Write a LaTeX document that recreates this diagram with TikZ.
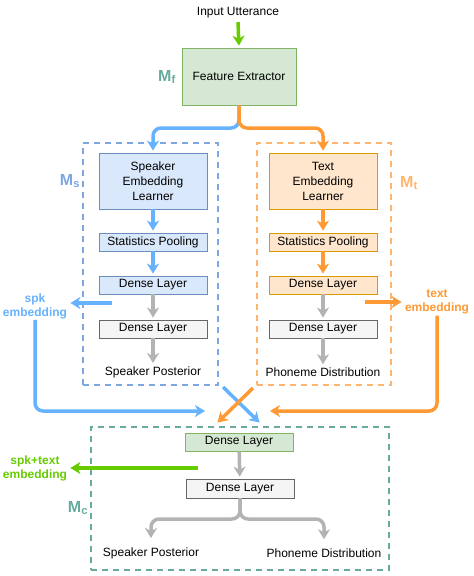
\documentclass[tikz,border=0pt]{standalone}
\usepackage{fontspec}
\setmainfont{Liberation Sans}
\usepackage{tikz}
\usetikzlibrary{arrows.meta, positioning}
\tikzset{every picture/.style={line width=0.75pt}}

\definecolor{ingreen}{HTML}{66CC00}
\definecolor{sblue}{HTML}{66B2FF}
\definecolor{torange}{HTML}{FF9933}
\definecolor{agray}{HTML}{B3B3B3}
\definecolor{teal}{HTML}{67AB9F}
\definecolor{sfill}{HTML}{DAE8FC}
\definecolor{sline}{HTML}{6C8EBF}
\definecolor{tfill}{HTML}{FFE6CC}
\definecolor{tline}{HTML}{D79B00}
\definecolor{gfill}{HTML}{F5F5F5}
\definecolor{gline}{HTML}{666666}
\definecolor{cfill}{HTML}{D5E8D4}
\definecolor{cline}{HTML}{82B366}
\definecolor{sgrp}{HTML}{7EA6E0}
\definecolor{tgrp}{HTML}{FFB570}

\begin{document}
\begin{tikzpicture}[x=1pt,y=-1pt,
    font=\fontsize{12}{15}\selectfont, align=center,
    blk/.style={draw, rectangle, minimum width=108, minimum height=18, inner sep=0pt},
    sbox/.style={blk, fill=sfill, draw=sline},
    tbox/.style={blk, fill=tfill, draw=tline},
    gbox/.style={blk, fill=gfill, draw=gline},
    cbox/.style={blk, fill=cfill, draw=cline},
    group/.style={draw, rectangle, line width=1.5pt, dash pattern=on 6pt off 5pt, inner sep=0pt},
    mlab/.style={font=\fontsize{16}{18}\selectfont\bfseries},
    elab/.style={font=\fontsize{12}{14}\selectfont\bfseries},
    flow/.style={line width=3.5pt, -{Stealth[length=10pt,width=12pt,inset=3pt]}, shorten >=2pt}]
    \useasboundingbox (0,0) rectangle (474,576);

    % dashed groups
    \node[group, draw=sgrp, minimum width=135, minimum height=242] (gs) at (150.5,264) {};
    \node[group, draw=tgrp, minimum width=134, minimum height=242] (gt) at (324,264) {};
    \node[group, draw=teal, minimum width=298, minimum height=143] (gc) at (240,498.5) {};

    % module labels
    \node[mlab, text=teal] (mf) at (167,77) {M\textsubscript{f}};
    \node[mlab, text=sgrp] (ms) at (70,181) {M\textsubscript{s}};
    \node[mlab, text=tgrp] (mt) at (409,183) {M\textsubscript{t}};
    \node[mlab, text=teal] (mc) at (78,508) {M\textsubscript{c}};

    % input
    \node (input) at (238,13) {Input Utterance};
    \node[cbox, minimum width=114, minimum height=57] (fe) at (239,76.5) {Feature Extractor};

    % speaker branch
    \node[sbox, minimum height=56] (sel) at (153,181) {Speaker\\Embedding\\Learner};
    \node[sbox] (ssp) at (153,242) {Statistics Pooling};
    \node[sbox] (sd1) at (153,285) {Dense Layer};
    \node[gbox] (sd2) at (153,329) {Dense Layer};
    \node[inner sep=1pt] (spost) at (153,372) {Speaker Posterior};

    % text branch
    \node[tbox, minimum height=56] (tel) at (323,181) {Text\\Embedding\\Learner};
    \node[tbox] (tsp) at (323,242) {Statistics Pooling};
    \node[tbox] (td1) at (323,285) {Dense Layer};
    \node[gbox] (td2) at (323,329) {Dense Layer};
    \node[inner sep=1pt] (tpost) at (323,372) {Phoneme Distribution};

    % combined
    \node[cbox] (cd1) at (239,442) {Dense Layer};
    \node[gbox, minimum height=19] (cd2) at (240,488.5) {Dense Layer};
    \node[inner sep=1pt] (cp1) at (151,553) {Speaker Posterior};
    \node[inner sep=1pt] (cp2) at (324,553) {Phoneme Distribution};

    % embeddings
    \node[elab, text=sblue, inner sep=1pt] (spk) at (35,306) {spk\\embedding};
    \node[elab, text=torange, inner sep=1pt] (txt) at (437,302) {text\\embedding};
    \node[elab, text=ingreen, inner sep=1pt] (st) at (35,468) {spk+text\\embedding};
    \coordinate (spkout) at (112,303);
    \coordinate (txtout) at (365,302);
    \coordinate (stout) at (198,468);
    \coordinate (spkin) at (207,411);
    \coordinate (txtin) at (268,411);

    % connectors
    \draw[flow, ingreen] (input.south) -- (fe.north);
    \draw[flow, sblue, rounded corners=8] (fe.south) -- (239,128) -| (sel.north);
    \draw[flow, torange, rounded corners=8] (fe.south) -- (239,128) -| (tel.north);

    \draw[flow, sblue] (sel) -- (ssp);
    \draw[flow, sblue] (ssp) -- (sd1);
    \draw[flow, agray] (sd1) -- (sd2);
    \draw[flow, agray] (sd2) -- (spost);
    \draw[flow, torange] (tel) -- (tsp);
    \draw[flow, torange] (tsp) -- (td1);
    \draw[flow, agray] (td1) -- (td2);
    \draw[flow, agray] (td2) -- (tpost);

    \draw[flow, sblue] (spkout) -- (spkout -| spk.east);
    \draw[flow, torange] (txtout) -- (txtout -| txt.west);
    \draw[flow, sblue, rounded corners=8] (spk.south) |- (spkin);
    \draw[flow, torange, rounded corners=8] (txt.south) |- (txtin);
    \draw[flow, sblue] (223,387) -- (261,424);
    \draw[flow, torange] (253,388) -- (216,424);

    \draw[flow, ingreen] (stout) -- (stout -| st.east);
    \draw[flow, agray] (cd1) -- (cd2);
    \draw[flow, agray, rounded corners=8, shorten >=8pt] (cd2.south) -- (240,519) -| (cp1.north);
    \draw[flow, agray, rounded corners=8, shorten >=8pt] (cd2.south) -- (240,519) -| (cp2.north);
\end{tikzpicture}
\end{document}
